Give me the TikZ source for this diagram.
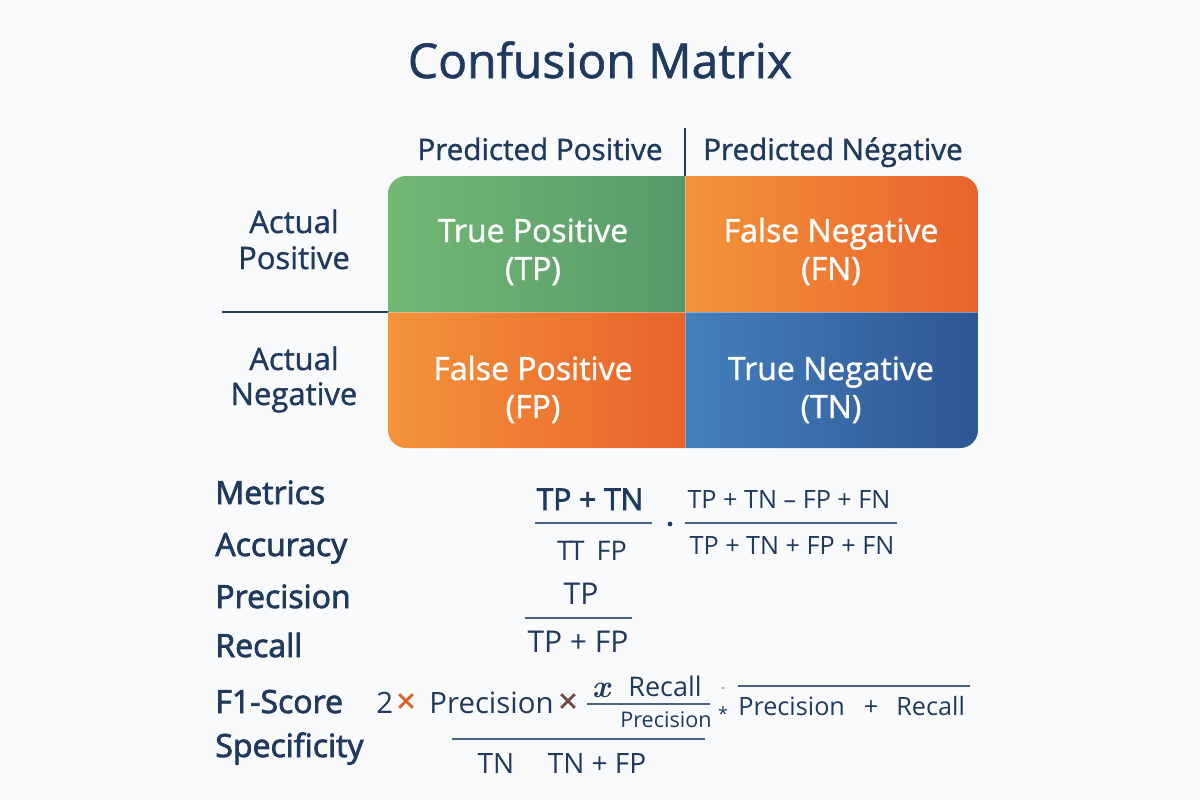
\documentclass[tikz,border=0pt]{standalone}
\usepackage{fontspec}
\setmainfont{Open Sans}
\newfontfamily\medf{Open Sans}[FakeBold=1.2]
\newfontfamily\semif{Open Sans}[FakeBold=2.4]
\newfontfamily\lmr{Latin Modern Roman}
\definecolor{navy}{HTML}{1F3A5E}
\definecolor{rulec}{HTML}{4A6488}
\definecolor{bgc}{HTML}{F9FAFB}
\definecolor{gA}{HTML}{73B874}
\definecolor{gB}{HTML}{57996A}
\definecolor{oA}{HTML}{F3933A}
\definecolor{oB}{HTML}{E8632B}
\definecolor{bA}{HTML}{4480BC}
\definecolor{bB}{HTML}{2F5694}
\definecolor{xor}{HTML}{D9622B}
\tikzset{
  txt/.style={inner sep=0pt, text=navy, anchor=base},
  title/.style={txt, font=\medf\fontsize{24}{28}\selectfont},
  head/.style={txt, font=\medf\fontsize{14.8}{18}\selectfont},
  rowlab/.style={txt, font=\medf\fontsize{15.5}{18}\selectfont},
  cell/.style={inner sep=0pt, text=white, anchor=base, font=\medf\fontsize{16}{19}\selectfont},
  metric/.style={inner sep=0pt, text=navy, anchor=base west, font=\semif\fontsize{16}{19}\selectfont},
  times/.style={txt, font=\medf\fontsize{17}{19}\selectfont},
  rule/.style={draw=rulec, line width=0.75pt},
  sep/.style={draw=navy, line width=0.6pt},
}
\begin{document}
\begin{tikzpicture}[x=0.5pt,y=-0.5pt]
\useasboundingbox (0,0) rectangle (1200,800);
\fill[bgc] (0,0) rectangle (1200,800);

\node[title] (title) at (600,78) {Confusion Matrix};

% headers
\node[head] (pp) at (540,160) {Predicted Positive};
\node[head] (pn) at (833,160) {Predicted Négative};
\coordinate (vt) at (685,128);
\coordinate (vb) at (685,176);
\draw[sep] (vt) -- (vb);

% matrix
\begin{scope}
\clip[rounded corners=9pt] (388,176) rectangle (978,448);
\shade[left color=gA, right color=gB] (388,176) rectangle (685,312);
\shade[left color=oA, right color=oB] (685,176) rectangle (978,312);
\shade[left color=oA, right color=oB] (388,312) rectangle (685,448);
\shade[left color=bA, right color=bB] (685,312) rectangle (978,448);
\end{scope}
\draw[white!70!gray, line width=0.4pt, opacity=0.5] (685,176) -- (685,448) (388,312) -- (978,312);

\node[cell] (tp1) at (533,242) {True Positive};
\node[cell] (tp2) at (533,280) {(TP)};
\node[cell] (fn1) at (831,242) {False Negative};
\node[cell] (fn2) at (831,280) {(FN)};
\node[cell] (fp1) at (533,380) {False Positive};
\node[cell] (fp2) at (533,418) {(FP)};
\node[cell] (tn1) at (831,380) {True Negative};
\node[cell] (tn2) at (831,418) {(TN)};

% row labels
\node[rowlab] (ap1) at (294,233) {Actual};
\node[rowlab] (ap2) at (294,269) {Positive};
\node[rowlab] (an1) at (294,370) {Actual};
\node[rowlab] (an2) at (294,405) {Negative};
\coordinate (hl) at (222,312);
\coordinate (hr) at (388,312);
\draw[sep] (hl) -- (hr);

% metric labels
\node[metric] (m0) at (215,504) {Metrics};
\node[metric] (m1) at (215,556) {Accuracy};
\node[metric] (m2) at (215,608) {Precision};
\node[metric] (m3) at (215,657) {Recall};
\node[metric] (m4) at (215,713) {F1-Score};
\node[metric] (m5) at (215,757) {Specificity};

% accuracy-ish
\node[txt, font=\semif\fontsize{15}{18}\selectfont] (a1) at (590,510) {TP + TN};
\draw[rule] (535,523) -- (652,523);
\node[txt, font=\fontsize{13.5}{16}\selectfont] (a2) at (592,560) {T\kern-1.2pt T\hspace{6pt}FP};
\fill[navy] (670,524) circle (2.4);
\node[txt, font=\fontsize{12.6}{15}\selectfont] (a3) at (789,508) {TP + TN – FP + FN};
\draw[rule] (685,523) -- (897,523);
\node[txt, font=\fontsize{12.6}{15}\selectfont] (a4) at (792,554) {TP + TN + FP + FN};

% precision
\node[txt, font=\fontsize{15}{18}\selectfont] (p1) at (581,604) {TP};
\draw[rule] (525,618) -- (632,618);
\node[txt, font=\fontsize{15}{18}\selectfont] (p2) at (578,652) {TP + FP};

% F1
\node[txt, anchor=base west, font=\fontsize{14.7}{18}\selectfont] (f0) at (376,713) {2};
\node[times, text=xor] (fx1) at (406,713) {×};
\node[txt, anchor=base west, font=\fontsize{14.7}{18}\selectfont] (f1) at (429,713) {Precision};
\node[times, text=navy!55!xor] (fx2) at (568,713) {×};
\node[txt, font=\lmr\bfseries\itshape\fontsize{16}{18}\selectfont] (fx3) at (601,697) {x};
\node[txt, font=\fontsize{13.5}{16}\selectfont] (f2) at (665,696) {Recall};
\draw[rule] (587,704) -- (710,704);
\node[txt, font=\fontsize{10.8}{13}\selectfont] (f3) at (666,727) {Precision};
\fill[xor!70] (723,688) circle (1.3);
\node[txt, font=\fontsize{9}{10}\selectfont] (fs) at (723,720) {*};
\draw[rule] (738,686) -- (970,686);
\node[txt, anchor=base west, font=\fontsize{12.6}{15}\selectfont] (f4) at (738,715) {Precision};
\node[txt, font=\fontsize{12.6}{15}\selectfont] (f5) at (871,715) {+};
\node[txt, anchor=base west, font=\fontsize{12.6}{15}\selectfont] (f6) at (896,715) {Recall};

% specificity
\draw[rule] (452,739) -- (705,739);
\node[txt, font=\fontsize{14}{17}\selectfont] (s1) at (496,773) {TN};
\node[txt, font=\fontsize{14}{17}\selectfont] (s2) at (597,773) {TN + FP};
\end{tikzpicture}
\end{document}
